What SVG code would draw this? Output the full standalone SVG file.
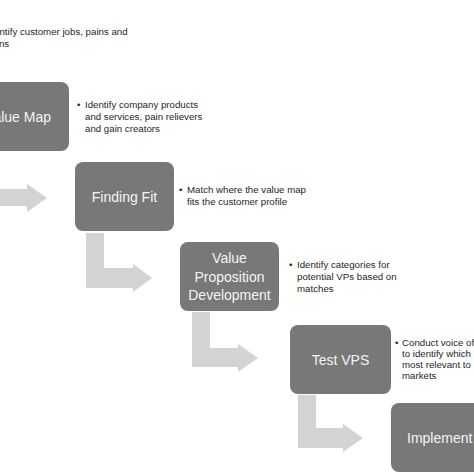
<svg xmlns="http://www.w3.org/2000/svg" width="474" height="474" viewBox="0 0 474 474">
<style>
.box{fill:#787878}
.lbl{font-family:"Liberation Sans",Arial,sans-serif;font-size:14px;fill:#f4f4f4;text-anchor:middle}
.desc{font-family:"Liberation Sans",Arial,sans-serif;font-size:9.7px;fill:#262626}
.arr{fill:#d3d3d3}
</style>
<rect width="474" height="474" fill="#ffffff"/>
<g id="connectors">
<path class="arr" d="M-5,189 H27 V184 L47,198 L27,212 V206 H-5 Z"/>
<path class="arr" d="M86,233 H104 V268 H133 V264 L152,278 L133,292 V288 H86 Z"/>
<path class="arr" d="M192,312 H210 V348 H238 V344 L258,358 L238,372 V367 H192 Z"/>
<path class="arr" d="M298,395 H316 V428 H343 V424 L363,438 L343,452 V448 H298 Z"/>
</g>
<g id="customer-profile-note">
<text class="desc" x="-22" y="35">•</text>
<text class="desc" x="-14" y="35">Identify customer jobs, pains and</text>
<text class="desc" x="-14" y="47">gains</text>
</g>
<g id="value-map">
<rect class="box" x="-40" y="82" width="109" height="69" rx="8"/>
<text class="lbl" x="51" y="122" style="text-anchor:end">Value Map</text>
<text class="desc" x="77" y="108">•</text>
<text class="desc" x="85" y="108">Identify company products</text>
<text class="desc" x="85" y="120">and services, pain relievers</text>
<text class="desc" x="85" y="132">and gain creators</text>
</g>
<g id="finding-fit">
<rect class="box" x="75" y="162" width="99" height="69" rx="8"/>
<text class="lbl" x="124.5" y="201.5">Finding Fit</text>
<text class="desc" x="179" y="193">•</text>
<text class="desc" x="187" y="193">Match where the value map</text>
<text class="desc" x="187" y="205">fits the customer profile</text>
</g>
<g id="value-proposition-development">
<rect class="box" x="180" y="242" width="99" height="69" rx="8"/>
<text class="lbl" x="229.5" y="263">Value</text>
<text class="lbl" x="229.5" y="281.5">Proposition</text>
<text class="lbl" x="229.5" y="300">Development</text>
<text class="desc" x="289" y="268">•</text>
<text class="desc" x="297" y="268">Identify categories for</text>
<text class="desc" x="297" y="280">potential VPs based on</text>
<text class="desc" x="297" y="292">matches</text>
</g>
<g id="test-vps">
<rect class="box" x="290" y="325" width="101" height="69" rx="8"/>
<text class="lbl" x="340.5" y="365">Test VPS</text>
<text class="desc" x="395" y="346">•</text>
<text class="desc" x="402" y="346">Conduct voice of</text>
<text class="desc" x="402" y="357">to identify which</text>
<text class="desc" x="402" y="368">most relevant to</text>
<text class="desc" x="402" y="379">markets</text>
</g>
<g id="implement">
<rect class="box" x="391" y="403" width="110" height="69" rx="8"/>
<text class="lbl" x="407" y="443" style="text-anchor:start">Implement</text>
</g>
</svg>
